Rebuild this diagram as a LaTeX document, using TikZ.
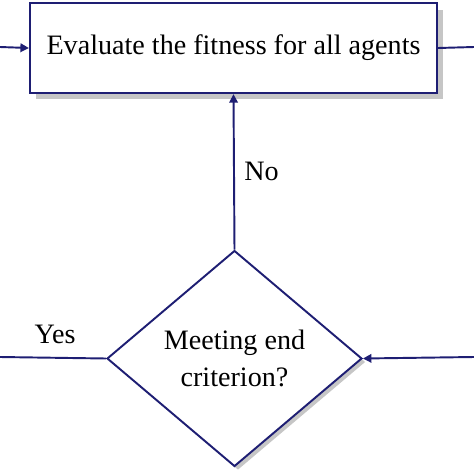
\documentclass[tikz,border=0pt]{standalone}
\usepackage{fontspec}
\setmainfont{Liberation Serif}
\usetikzlibrary{shapes.geometric,arrows.meta,shadows}
\definecolor{navy}{RGB}{30,30,115}
\begin{document}
\begin{tikzpicture}[x=0.02cm,y=-0.02cm,
    every node/.style={font=\fontsize{16}{21}\selectfont},
    flow/.style={draw=navy,line width=1.1pt},
    arr/.style={flow,-{Triangle[length=0.17cm,width=0.17cm]}}]
      \useasboundingbox (0,0) rectangle (474,474);
      \draw
        (233.5,48) node[flow,line width=1.3pt,fill=white,minimum width=8.14cm,minimum height=1.8cm,
          drop shadow={shadow xshift=0.12cm,shadow yshift=-0.13cm,fill=gray!45,opacity=1}] (eval){Evaluate the fitness for all agents}
        (234.5,358.5) node[flow,diamond,fill=white,inner sep=0pt,minimum width=5.1cm,minimum height=4.32cm,
          align=center,drop shadow={shadow xshift=0.07cm,shadow yshift=-0.07cm,fill=gray!45,opacity=1}] (end){Meeting end\\criterion?};
      \coordinate (in) at (0,47);
      \coordinate (out) at (474,47);
      \coordinate (back) at (474,357);
      \coordinate (yes) at (0,357);
      \begin{scope}[arr]
        \draw (in) to (eval.west);
        \draw (end.north) to node[right,black,xshift=2pt] (no){No} (eval.south);
        \draw (back) to (end.east);
      \end{scope}
      \begin{scope}[flow]
        \draw (eval.east) to (out);
        \draw (end.west) to node[above,black,pos=0.48,yshift=4pt] (yeslbl){Yes} (yes);
      \end{scope}
    \end{tikzpicture}
\end{document}
